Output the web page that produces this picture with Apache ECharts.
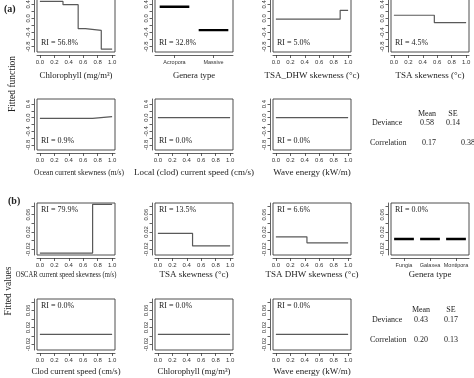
<!DOCTYPE html>
<html><head><meta charset="utf-8">
<script src="https://cdn.jsdelivr.net/npm/echarts@6/dist/echarts.min.js"></script>
<style>html,body{margin:0;padding:0;background:#fff}#c{width:474px;height:378px}</style>
</head><body><div id="c"></div>
<script>
// ---------------- data ----------------
const xTicks = [0, 0.2, 0.4, 0.6, 0.8, 1.0];
const yTicksA = [-0.8, -0.6, -0.4, -0.2, 0, 0.2, 0.4];
const yLabelsA = [-0.8, -0.4, 0, 0.4];
const yTicksB = [-0.02, 0, 0.02, 0.04, 0.06, 0.08];
const yLabelsB = [-0.02, 0.02, 0.06];

const titlesA = ['Chlorophyll (mg/m\u00B3)', 'Genera type', 'TSA_DHW skewness (\u00B0c)', 'TSA skewness (\u00B0c)',
  'Ocean current skewness (m/s)', 'Local (clod) current speed (cm/s)', 'Wave energy (kW/m)'];
const riA = ['56.8%', '32.8%', '5.0%', '4.5%', '0.9%', '0.0%', '0.0%'];
const titlesB = ['OSCAR current speed skewness (m/s)', 'TSA skewness (\u00B0c)', 'TSA DHW skewness (\u00B0c)', 'Genera type',
  'Clod current speed (cm/s)', 'Chlorophyll (mg/m\u00B3)', 'Wave energy (kW/m)'];
const riB = ['79.9%', '13.5%', '6.6%', '0.0%', '0.0%', '0.0%', '0.0%'];

// (a) fitted functions (step curves: x where each level starts, level)
const chlA_x = [0, 0.32, 0.53, 0.63, 0.85, 1.0];
const chlA_y = [0.48, 0.39, -0.29, -0.34, -0.87, -0.87];
const generaA_cats = ['Acropora', 'Massive'];
const generaA_y = [0.33, -0.33];
const tsaDhwA_x = [0, 0.89, 1.0];
const tsaDhwA_y = [-0.02, 0.23, 0.23];
const tsaA_x = [0, 0.56, 1.0];
const tsaA_y = [0.09, -0.12, -0.12];
const oceanA_x = [0, 0.73, 1.0];
const oceanA_y = [-0.02, 0.03, 0.03];
const clodA_x = [0, 1.0];
const clodA_y = [0, 0];
const waveA_x = [0, 1.0];
const waveA_y = [0, 0];

// (b) fitted values
const oscarB_x = [0, 0.73, 1.0];
const oscarB_y = [-0.0285, 0.084, 0.084];
const tsaB_x = [0, 0.48, 1.0];
const tsaB_y = [0.017, -0.012, -0.012];
const tsaDhwB_x = [0, 0.43, 1.0];
const tsaDhwB_y = [0.009, -0.005, -0.005];
const generaB_cats = ['Fungia', 'Galaxea', 'Montipora'];
const generaB_y = [0.004, 0.004, 0.004];
const clodB_x = [0, 1.0];
const clodB_y = [0.004, 0.004];
const chlB_x = [0, 1.0];
const chlB_y = [0.004, 0.004];
const waveB_x = [0, 1.0];
const waveB_y = [0.004, 0.004];

// model statistics
const statHeads = ['Mean', 'SE'];
const statRows = ['Deviance', 'Correlation'];
const statsA = [['0.58', '0.14'], ['0.17', '0.38']];
const statsB = [['0.43', '0.17'], ['0.20', '0.13']];

// ---------------- layout ----------------
const colLeft = [37, 155, 273, 391];
const boxW = 78;
const rows = { a1: [-1, 53], a2: [99, 51], b1: [203, 52], b2: [299, 51] };
const rangeA = [-0.95, 0.55];
const rangeB = [-0.033, 0.087];
const serif = 'Liberation Serif';
const sans = 'Liberation Sans';
const lineCol = '#595959';
// per-title font size, horizontal squeeze and centre shift
const titleStyleA = [[8.7, 1, 0], [8.7, 1, 0], [9, 1, 0], [9, 1, 0], [9, 0.83, 3], [9, 1, 0], [9, 1, 0]];
const titleStyleB = [[9, 0.73, -10], [9, 1, 0], [9, 1, 0], [8.8, 1, 0], [8.6, 1, 0], [8.7, 1, 0], [9, 1, 0]];
const titleGap = { a1: 24, a2: 23, b1: 19.5, b2: 22 };

const panels = [
  { g: 'A', row: 'a1', col: 0, kind: 'step', xs: chlA_x, ys: chlA_y, t: 0 },
  { g: 'A', row: 'a1', col: 1, kind: 'cat', cats: generaA_cats, ys: generaA_y, t: 1 },
  { g: 'A', row: 'a1', col: 2, kind: 'step', xs: tsaDhwA_x, ys: tsaDhwA_y, t: 2 },
  { g: 'A', row: 'a1', col: 3, kind: 'step', xs: tsaA_x, ys: tsaA_y, t: 3 },
  { g: 'A', row: 'a2', col: 0, kind: 'step', xs: oceanA_x, ys: oceanA_y, t: 4 },
  { g: 'A', row: 'a2', col: 1, kind: 'step', xs: clodA_x, ys: clodA_y, t: 5 },
  { g: 'A', row: 'a2', col: 2, kind: 'step', xs: waveA_x, ys: waveA_y, t: 6 },
  { g: 'B', row: 'b1', col: 0, kind: 'step', xs: oscarB_x, ys: oscarB_y, t: 0 },
  { g: 'B', row: 'b1', col: 1, kind: 'step', xs: tsaB_x, ys: tsaB_y, t: 1 },
  { g: 'B', row: 'b1', col: 2, kind: 'step', xs: tsaDhwB_x, ys: tsaDhwB_y, t: 2 },
  { g: 'B', row: 'b1', col: 3, kind: 'cat', cats: generaB_cats, ys: generaB_y, t: 3 },
  { g: 'B', row: 'b2', col: 0, kind: 'step', xs: clodB_x, ys: clodB_y, t: 4 },
  { g: 'B', row: 'b2', col: 1, kind: 'step', xs: chlB_x, ys: chlB_y, t: 5 },
  { g: 'B', row: 'b2', col: 2, kind: 'step', xs: waveB_x, ys: waveB_y, t: 6 }
];

const grid = [], xAxis = [], yAxis = [], series = [], graphic = [];

function txt(text, x, y, size, opts) {
  opts = opts || {};
  const align = opts.align || 'left';
  const va = opts.va || 'middle';
  return {
    type: 'text', x: x, y: y, rotation: opts.rot || 0, scaleX: opts.sx || 1, silent: true,
    style: {
      text: text, fill: opts.color || '#222',
      font: (opts.bold ? 'bold ' : '') + size + 'px "' + (opts.family || serif) + '"',
      align: align, verticalAlign: va, textAlign: align, textVerticalAlign: va
    }
  };
}

panels.forEach((p, i) => {
  const top = rows[p.row][0], h = rows[p.row][1];
  const left = colLeft[p.col];
  const isA = p.g === 'A';
  const yr = isA ? rangeA : rangeB;
  grid.push({ left: left, top: top, width: boxW, height: h, show: true,
    borderColor: '#3a3a3a', borderWidth: 0.9, backgroundColor: 'transparent',
    containLabel: false, outerBoundsMode: 'none' });
  const xBase = {
    gridIndex: i, type: 'value', offset: 3,
    axisLine: { show: true, onZero: false, lineStyle: { color: '#3a3a3a', width: 0.8 } },
    axisTick: { show: true, length: 3, lineStyle: { color: '#3a3a3a', width: 0.8 } },
    splitLine: { show: false },
    axisLabel: { fontSize: 6, fontFamily: sans, color: '#333', margin: 4, hideOverlap: false }
  };
  if (p.kind === 'step') {
    xBase.min = -0.04; xBase.max = 1.04;
    xBase.axisTick.customValues = xTicks;
    xBase.axisLabel.customValues = xTicks;
    xBase.axisLabel.formatter = v => v.toFixed(1);
    series.push({ type: 'line', xAxisIndex: i, yAxisIndex: i, step: 'end', symbol: 'none',
      silent: true, animation: false,
      lineStyle: { color: lineCol, width: 1.2 },
      data: p.xs.map((x, k) => [x, p.ys[k]]) });
  } else {
    const n = p.cats.length;
    const pos = p.cats.map((c, k) => k + 1);
    xBase.min = 0.5; xBase.max = n + 0.5;
    xBase.axisTick.customValues = pos;
    xBase.axisLabel.customValues = pos;
    xBase.axisLabel.fontSize = 5.5;
    const cats = p.cats;
    xBase.axisLabel.formatter = v => cats[Math.round(v) - 1] || '';
    pos.forEach((c, k) => {
      series.push({ type: 'line', xAxisIndex: i, yAxisIndex: i, symbol: 'none', silent: true, animation: false,
        lineStyle: { color: '#000', width: 2.4 },
        data: [[c - 0.38, p.ys[k]], [c + 0.38, p.ys[k]]] });
    });
  }
  xAxis.push(xBase);
  const yt = isA ? yTicksA : yTicksB;
  const yl = isA ? yLabelsA : yLabelsB;
  yAxis.push({
    gridIndex: i, type: 'value', min: yr[0], max: yr[1], offset: 3,
    axisLine: { show: true, onZero: false, lineStyle: { color: '#3a3a3a', width: 0.8 } },
    axisTick: { show: true, length: 2.5, customValues: yt, lineStyle: { color: '#3a3a3a', width: 0.8 } },
    splitLine: { show: false },
    axisLabel: { customValues: yl, rotate: 90, fontSize: 6, fontFamily: sans, color: '#333', margin: 3,
      hideOverlap: false,
      formatter: v => isA ? v.toFixed(1) : v.toFixed(2) }
  });
  // axis title
  const title = isA ? titlesA[p.t] : titlesB[p.t];
  const ts = isA ? titleStyleA[p.t] : titleStyleB[p.t];
  graphic.push(txt(title, left + boxW / 2 + ts[2], top + h + titleGap[p.row], ts[0], { align: 'center', sx: ts[1] }));
  // relative influence
  const ri = 'RI = ' + (isA ? riA[p.t] : riB[p.t]);
  graphic.push(txt(ri, left + 4, isA ? top + h - 9 : top + 7, 8));
});

// panel letters and side titles
graphic.push(txt('(a)', 4, 9, 10, { bold: true }));
graphic.push(txt('(b)', 8, 201, 10, { bold: true }));
graphic.push(txt('Fitted function', 12, 84, 9.5, { align: 'center', rot: Math.PI / 2 }));
graphic.push(txt('Fitted values', 8, 291, 9.5, { align: 'center', rot: Math.PI / 2 }));

// statistics tables
function table(stats, yHead, yDev, yCor, colX, corShift) {
  graphic.push(txt(statHeads[0], colX[0], yHead, 8, { align: 'center' }));
  graphic.push(txt(statHeads[1], colX[1], yHead, 8, { align: 'center' }));
  graphic.push(txt(statRows[0], 372, yDev, 8));
  graphic.push(txt(statRows[1], 370, yCor, 8));
  graphic.push(txt(stats[0][0], colX[0], yDev, 8, { align: 'center' }));
  graphic.push(txt(stats[0][1], colX[1], yDev, 8, { align: 'center' }));
  graphic.push(txt(stats[1][0], colX[0] + corShift[0], yCor, 8, { align: 'center' }));
  graphic.push(txt(stats[1][1], colX[1] + corShift[1], yCor, 8, { align: 'center' }));
}
table(statsA, 114, 123, 143, [427, 453], [2, 15]);
table(statsB, 310, 320, 340, [421, 451], [0, 0]);

const chart = echarts.init(document.getElementById('c'), null, { renderer: 'canvas' });
chart.setOption({ animation: false, grid, xAxis, yAxis, series, graphic });
</script></body></html>
